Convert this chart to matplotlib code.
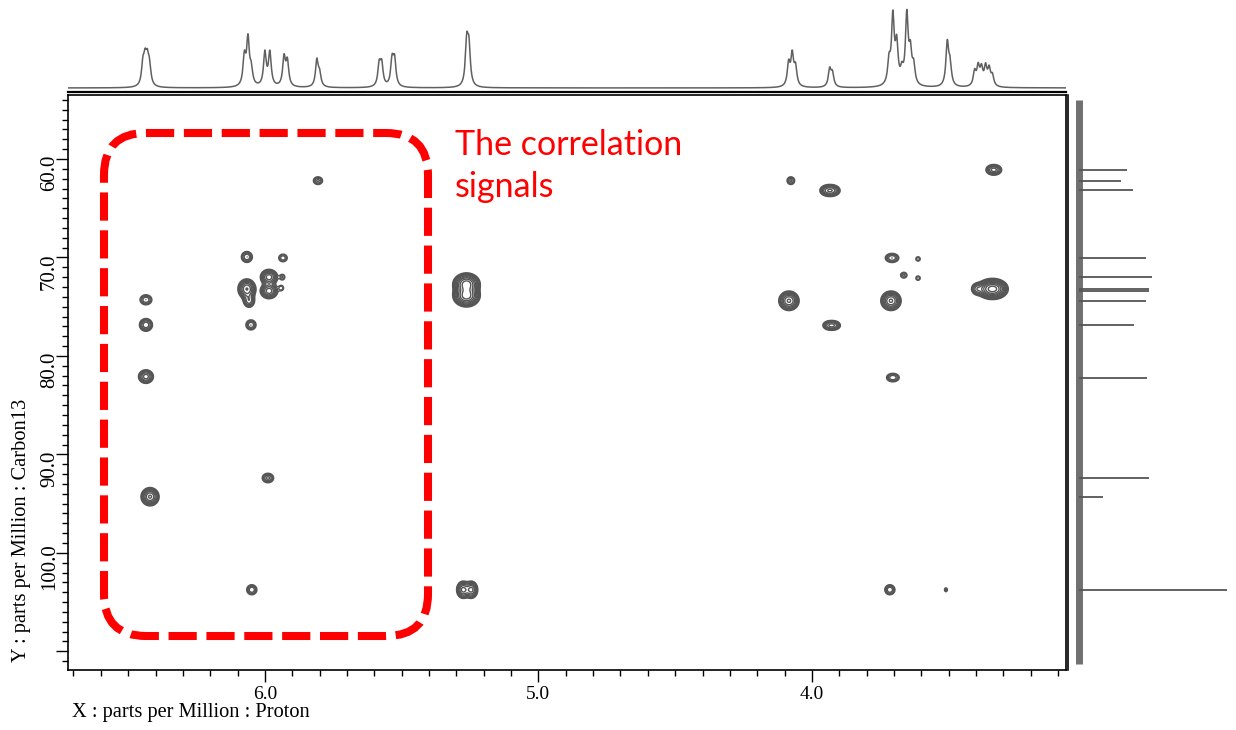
import numpy as np
import matplotlib
matplotlib.use('Agg')
import matplotlib.pyplot as plt
from matplotlib.patches import FancyBboxPatch

# --- 2D correlation peaks: proton ppm, carbon ppm, intensity, widths (ppm)
peak_h = [6.435, 6.435, 6.435, 6.420, 6.048, 5.989, 6.066, 5.934,
          6.066, 6.058, 5.985, 5.936, 5.985, 5.940, 6.051, 5.806,
          5.263, 5.263, 5.276, 5.245,
          4.077, 3.944, 3.924, 4.084, 3.938, 3.918, 3.707, 3.612, 3.664,
          3.612, 3.711, 3.350, 3.330, 3.397, 3.342, 3.328, 3.704, 3.715, 3.510]
peak_c = [74.3, 76.85, 82.1, 94.3, 103.75, 92.4, 69.95, 70.05,
          73.2, 74.4, 72.0, 72.0, 73.4, 73.1, 76.85, 62.2,
          72.7, 73.9, 103.75, 103.75,
          62.2, 63.2, 63.2, 74.4, 76.9, 76.9, 70.05, 70.15, 71.8,
          72.1, 74.4, 73.2, 73.2, 73.2, 61.1, 61.1, 82.2, 103.75, 103.75]
peak_amp = [1.0, 1.3, 1.6, 2.6, 1.0, 1.1, 1.0, 0.7,
            2.5, 1.2, 2.2, 0.55, 2.2, 0.5, 1.0, 0.8,
            4.0, 4.0, 2.0, 2.0,
            0.8, 1.2, 1.2, 2.6, 1.0, 1.0, 1.0, 0.5, 0.6,
            0.5, 2.6, 3.0, 3.0, 1.0, 0.9, 0.9, 1.0, 1.0, 0.45]
peak_wh = [0.014, 0.014, 0.015, 0.016, 0.012, 0.013, 0.013, 0.012,
           0.016, 0.012, 0.016, 0.008, 0.016, 0.008, 0.012, 0.012,
           0.022, 0.022, 0.012, 0.012,
           0.010, 0.016, 0.016, 0.018, 0.014, 0.014, 0.016, 0.008, 0.010,
           0.008, 0.018, 0.022, 0.022, 0.012, 0.014, 0.014, 0.015, 0.012, 0.006]
peak_wc = [0.33, 0.38, 0.38, 0.45, 0.33, 0.30, 0.36, 0.30,
           0.50, 0.40, 0.40, 0.25, 0.40, 0.25, 0.33, 0.28,
           0.50, 0.50, 0.45, 0.45,
           0.28, 0.32, 0.32, 0.48, 0.28, 0.28, 0.30, 0.22, 0.25,
           0.22, 0.48, 0.45, 0.45, 0.35, 0.30, 0.30, 0.28, 0.33, 0.22]

# --- 1D proton spectrum (top): line ppm and height
proton_ppm = [6.446, 6.438, 6.430, 6.422,
              6.075, 6.062, 6.050, 6.000, 5.982, 5.930, 5.918,
              5.810, 5.800, 5.582, 5.573, 5.535, 5.526, 5.262, 5.254,
              4.085, 4.072, 4.060, 3.935, 3.925,
              3.718, 3.704, 3.690, 3.671, 3.653, 3.640, 3.628,
              3.505, 3.495, 3.405, 3.392, 3.380, 3.365, 3.352, 3.340]
proton_int = [20, 22, 22, 18,
              28, 45, 15, 33, 33, 28, 24,
              26, 12, 21, 21, 25, 25, 42, 36,
              22, 30, 18, 17, 13,
              22, 66, 38, 12, 68, 30, 18,
              42, 20, 14, 18, 16, 18, 16, 10]

# --- 1D carbon spectrum (right): line ppm and height
carbon_ppm = [61.1, 62.2, 63.15, 70.05, 72.0, 73.2, 73.4, 74.4, 76.85, 82.2, 92.4, 94.3, 103.75]
carbon_int = [48, 42, 54, 67, 73, 70, 70, 67, 55, 68, 70, 24, 148]

x_major = [6.0, 5.0, 4.0]
y_major = [60, 70, 80, 90, 100, 110]
y_labels = [60, 70, 80, 90, 100]

W, H = 1236, 730
fig = plt.figure(figsize=(W / 100, H / 100), dpi=100)


def px_axes(x0, y0, x1, y1, **kw):
    return fig.add_axes([x0 / W, 1 - y1 / H, (x1 - x0) / W, (y1 - y0) / H], **kw)


ax = px_axes(68, 95, 1066, 670)
top = px_axes(68, 2, 1066, 92)
side = px_axes(1068, 95, 1236, 670)

gray = '#555555'
serif = 'Liberation Serif'

# 2D contour map
hx = np.linspace(3.05, 6.75, 1600)
cy = np.linspace(53.0, 112.5, 1100)
X, Y = np.meshgrid(hx, cy)
Z = np.zeros_like(X)
for h, c, a, wh, wc in zip(peak_h, peak_c, peak_amp, peak_wh, peak_wc):
    Z += a * np.exp(-((X - h) ** 2 / (2 * wh ** 2) + (Y - c) ** 2 / (2 * wc ** 2)))
levels = 0.3 * 1.35 ** np.arange(12)
ax.contour(hx, cy, Z, levels=levels, colors=gray, linewidths=1.0)

ax.set_xlim(6.72, 3.071)
ax.set_ylim(111.9, 53.5)
ax.set_xticks(x_major)
ax.set_xticklabels(['%.1f' % v for v in x_major], family=serif, fontsize=14)
ax.set_xticks(np.arange(3.1, 6.75, 0.1), minor=True)
ax.set_yticks(y_major)
ax.set_yticklabels([])
ax.set_yticks(np.arange(54, 112, 1), minor=True)
ax.tick_params(which='major', length=8.5, width=1, pad=3)
ax.tick_params(which='minor', length=4, width=1)
for s in ax.spines.values():
    s.set_linewidth(1.2)
for v in y_labels:
    ax.annotate('%.1f' % v, xy=(0, v), xycoords=('axes fraction', 'data'),
                xytext=(-9, -14), textcoords='offset pixels', rotation=90,
                ha='right', va='center', family=serif, fontsize=15)

# top proton spectrum
hs = np.linspace(3.07, 6.72, 5000)
spec = np.zeros_like(hs)
g = 0.006
for p, i in zip(proton_ppm, proton_int):
    spec += i * g ** 2 / ((hs - p) ** 2 + g ** 2)
top.plot(hs, spec, color='#606060', lw=1.1)
top.set_xlim(6.72, 3.071)
top.set_ylim(-4, 85)
top.set_xticks([])
top.set_yticks([])
for k in ['top', 'left', 'right']:
    top.spines[k].set_visible(False)
top.spines['bottom'].set_linewidth(1.6)

# right carbon spectrum
side.plot([0, 0], [54.0, 111.3], color='#707070', lw=5, solid_capstyle='butt')
side.hlines(carbon_ppm, 0, carbon_int, color=gray, lw=1.3)
side.set_xlim(-11, 157)
side.set_ylim(111.9, 53.5)
side.set_xticks([])
side.set_yticks([])
for k in ['top', 'bottom', 'right']:
    side.spines[k].set_visible(False)
side.spines['left'].set_linewidth(1.2)

# axis titles
fig.text(72 / W, 1 - 713 / H, 'X : parts per Million : Proton', family=serif,
         fontsize=14.7, ha='left', va='center')
fig.text(22 / W, 1 - 662 / H, 'Y : parts per Million : Carbon13', family=serif,
         fontsize=14.7, rotation=90, ha='center', va='bottom')

# annotation overlay in pixel space
ov = fig.add_axes([0, 0, 1, 1], zorder=5)
ov.set_xlim(0, W)
ov.set_ylim(H, 0)
ov.axis('off')
ov.patch.set_alpha(0)
box = FancyBboxPatch((104, 133), 324, 503, boxstyle='round,pad=0,rounding_size=42',
                     fill=False, edgecolor='#ff0000', lw=5.8,
                     linestyle=(0, (3.5, 1.2)))
ov.add_patch(box)
ov.text(455, 129, 'The correlation\nsignals', color='#ff0000', family='Lato',
        fontsize=24.5, ha='left', va='top', linespacing=1.38)

fig.savefig('out.png', dpi=100)
